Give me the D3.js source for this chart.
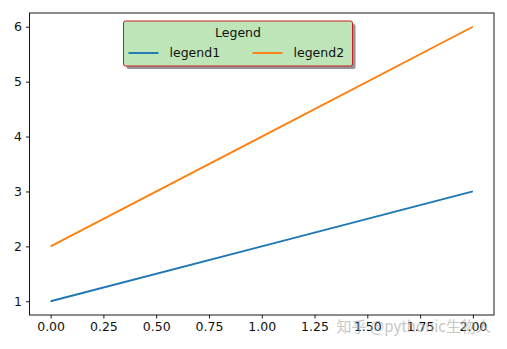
<!DOCTYPE html>
<html>
<head>
<meta charset="utf-8">
<script src="https://cdn.jsdelivr.net/npm/d3@7"></script>
<style>
  body { margin: 0; background: #fff; }
  svg text { font-family: "DejaVu Sans", sans-serif; }
</style>
</head>
<body>
<svg id="chart"></svg>
<script>
// data
const xValues = [0, 1, 2];
const legend1 = [1, 2, 3];
const legend2 = [2, 4, 6];
const seriesNames = ["legend1", "legend2"];
const seriesColors = ["#1f77b4", "#ff7f0e"];
const xTicks = [0, 0.25, 0.5, 0.75, 1, 1.25, 1.5, 1.75, 2];
const yTicks = [1, 2, 3, 4, 5, 6];

const width = 507;
const height = 349;
const margin = { top: 13, right: 13, bottom: 34, left: 29.5 };

const svg = d3.select("#chart")
  .attr("width", width)
  .attr("height", height);

// scales with matplotlib-like 5% padding
const x = d3.scaleLinear()
  .domain([-0.1, 2.1])
  .range([margin.left, width - margin.right]);
const y = d3.scaleLinear()
  .domain([0.75, 6.25])
  .range([height - margin.bottom, margin.top]);

// axes
const xAxis = svg.append("g")
  .attr("transform", `translate(0,${height - margin.bottom})`)
  .call(d3.axisBottom(x).tickValues(xTicks).tickFormat(d3.format(".2f")).tickSizeOuter(0).tickSize(3.5).tickPadding(4));
const yAxis = svg.append("g")
  .attr("transform", `translate(${margin.left},0)`)
  .call(d3.axisLeft(y).tickValues(yTicks).tickFormat(d3.format("d")).tickSizeOuter(0).tickSize(3.5).tickPadding(4));

[xAxis, yAxis].forEach(a => {
  a.select(".domain").remove();
  a.selectAll("text").style("font-size", "12.5px").attr("fill", "#111");
  a.selectAll("line").attr("stroke", "#000").attr("stroke-width", 0.9);
});

// lines
const series = [legend1, legend2];
const line = d3.line()
  .x((d, i) => x(xValues[i]))
  .y(d => y(d));

svg.selectAll(".series")
  .data(series)
  .enter().append("path")
  .attr("class", "series")
  .attr("d", line)
  .attr("fill", "none")
  .attr("stroke", (d, i) => seriesColors[i])
  .attr("stroke-width", 1.9);

// frame
svg.append("rect")
  .attr("x", margin.left)
  .attr("y", margin.top)
  .attr("width", width - margin.left - margin.right)
  .attr("height", height - margin.top - margin.bottom)
  .attr("fill", "none")
  .attr("stroke", "#000")
  .attr("stroke-width", 0.9);

// legend box with shadow
const lg = svg.append("g").attr("transform", "translate(123.5,21)");
lg.append("rect")
  .attr("x", 3).attr("y", 3)
  .attr("width", 229).attr("height", 45)
  .attr("rx", 2)
  .attr("fill", "#888")
  .attr("opacity", 0.9);
lg.append("rect")
  .attr("width", 229).attr("height", 45)
  .attr("rx", 2)
  .attr("fill", "#bde5b7")
  .attr("stroke", "#c82020")
  .attr("stroke-width", 1);
lg.append("text")
  .attr("x", 114.5).attr("y", 16)
  .attr("text-anchor", "middle")
  .style("font-size", "12.5px")
  .attr("fill", "#111")
  .text("Legend");

const entries = lg.selectAll(".entry")
  .data(seriesNames)
  .enter().append("g")
  .attr("class", "entry")
  .attr("transform", (d, i) => `translate(${5 + i * 124},32)`);
entries.append("line")
  .attr("x1", 0).attr("x2", 30)
  .attr("stroke", (d, i) => seriesColors[i])
  .attr("stroke-width", 1.9);
entries.append("text")
  .attr("x", 41).attr("y", 0)
  .attr("dy", "0.35em")
  .style("font-size", "12.5px")
  .attr("fill", "#111")
  .text(d => d);

// watermark
svg.append("text")
  .attr("x", 491).attr("y", 332)
  .attr("text-anchor", "end")
  .style("font-family", "'Noto Sans CJK SC', sans-serif")
  .style("font-size", "15px")
  .attr("fill", "#aaa")
  .attr("opacity", 0.65)
  .text("知乎 @pythonic生物人");
</script>
</body>
</html>
